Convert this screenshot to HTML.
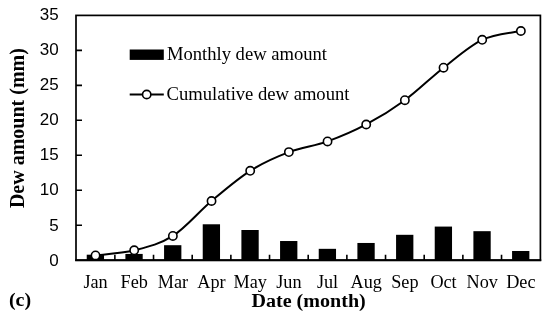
<!DOCTYPE html>
<html><head><meta charset="utf-8"><title>Dew amount</title>
<style>html,body{margin:0;padding:0;background:#fff}svg{display:block}text{fill:#000}.s{font-family:"Liberation Serif",serif}.a{font-family:"Liberation Sans",sans-serif}</style></head>
<body>
<svg width="550" height="319" viewBox="0 0 550 319">
<rect width="550" height="319" fill="#fff"/>
<rect x="86.73" y="254.69" width="17.3" height="5.51" fill="#000"/>
<rect x="125.40" y="253.92" width="17.3" height="6.28" fill="#000"/>
<rect x="164.07" y="245.20" width="17.3" height="15.00" fill="#000"/>
<rect x="202.73" y="224.28" width="17.3" height="35.92" fill="#000"/>
<rect x="241.40" y="230.00" width="17.3" height="30.20" fill="#000"/>
<rect x="280.07" y="241.02" width="17.3" height="19.18" fill="#000"/>
<rect x="318.73" y="248.83" width="17.3" height="11.37" fill="#000"/>
<rect x="357.40" y="242.97" width="17.3" height="17.23" fill="#000"/>
<rect x="396.07" y="234.81" width="17.3" height="25.39" fill="#000"/>
<rect x="434.73" y="226.58" width="17.3" height="33.62" fill="#000"/>
<rect x="473.40" y="231.18" width="17.3" height="29.02" fill="#000"/>
<rect x="512.07" y="250.99" width="17.3" height="9.21" fill="#000"/>
<rect x="76.0" y="15.4" width="464.40" height="244.80" fill="none" stroke="#000" stroke-width="1.7"/>
<path d="M75.15 260.3H541.25" stroke="#000" stroke-width="1.9" fill="none"/>
<path d="M76.0 225.23h6M76.0 190.26h6M76.0 155.29h6M76.0 120.31h6M76.0 85.34h6M76.0 50.37h6M114.87 260.2v-5.5M153.53 260.2v-5.5M192.20 260.2v-5.5M230.87 260.2v-5.5M269.53 260.2v-5.5M308.20 260.2v-5.5M346.87 260.2v-5.5M385.53 260.2v-5.5M424.20 260.2v-5.5M462.87 260.2v-5.5M501.53 260.2v-5.5" stroke="#000" stroke-width="1.6" fill="none"/>
<path d="M95.53 255.39C101.98 254.54 121.31 253.54 134.20 250.29C147.09 247.05 159.98 244.14 172.87 235.93C185.76 227.71 198.64 211.84 211.53 200.99C224.42 190.13 237.31 178.94 250.20 170.79C263.09 162.64 275.98 156.99 288.87 152.10C301.76 147.20 314.64 146.03 327.53 141.43C340.42 136.82 353.31 131.35 366.20 124.48C379.09 117.61 391.98 109.67 404.87 100.21C417.76 90.75 430.64 77.77 443.53 67.71C456.42 57.64 469.31 45.92 482.20 39.81C495.09 33.70 514.42 32.49 520.87 31.02" stroke="#000" stroke-width="2.0" fill="none"/>
<circle cx="95.53" cy="255.39" r="4.15" fill="#fff" stroke="#000" stroke-width="1.6"/>
<circle cx="134.20" cy="250.29" r="4.15" fill="#fff" stroke="#000" stroke-width="1.6"/>
<circle cx="172.87" cy="235.93" r="4.15" fill="#fff" stroke="#000" stroke-width="1.6"/>
<circle cx="211.53" cy="200.99" r="4.15" fill="#fff" stroke="#000" stroke-width="1.6"/>
<circle cx="250.20" cy="170.79" r="4.15" fill="#fff" stroke="#000" stroke-width="1.6"/>
<circle cx="288.87" cy="152.10" r="4.15" fill="#fff" stroke="#000" stroke-width="1.6"/>
<circle cx="327.53" cy="141.43" r="4.15" fill="#fff" stroke="#000" stroke-width="1.6"/>
<circle cx="366.20" cy="124.48" r="4.15" fill="#fff" stroke="#000" stroke-width="1.6"/>
<circle cx="404.87" cy="100.21" r="4.15" fill="#fff" stroke="#000" stroke-width="1.6"/>
<circle cx="443.53" cy="67.71" r="4.15" fill="#fff" stroke="#000" stroke-width="1.6"/>
<circle cx="482.20" cy="39.81" r="4.15" fill="#fff" stroke="#000" stroke-width="1.6"/>
<circle cx="520.87" cy="31.02" r="4.15" fill="#fff" stroke="#000" stroke-width="1.6"/>
<text class="a" x="58.7" y="265.70" font-size="17" text-anchor="end">0</text>
<text class="a" x="58.7" y="230.59" font-size="17" text-anchor="end">5</text>
<text class="a" x="58.7" y="195.48" font-size="17" text-anchor="end">10</text>
<text class="a" x="58.7" y="160.37" font-size="17" text-anchor="end">15</text>
<text class="a" x="58.7" y="125.26" font-size="17" text-anchor="end">20</text>
<text class="a" x="58.7" y="90.15" font-size="17" text-anchor="end">25</text>
<text class="a" x="58.7" y="55.04" font-size="17" text-anchor="end">30</text>
<text class="a" x="58.7" y="19.93" font-size="17" text-anchor="end">35</text>
<text class="s" transform="translate(95.53 287.5) scale(.985 .97)" font-size="18.5" text-anchor="middle">Jan</text>
<text class="s" transform="translate(134.20 287.5) scale(.985 .97)" font-size="18.5" text-anchor="middle">Feb</text>
<text class="s" transform="translate(172.87 287.5) scale(.985 .97)" font-size="18.5" text-anchor="middle">Mar</text>
<text class="s" transform="translate(211.53 287.5) scale(.985 .97)" font-size="18.5" text-anchor="middle">Apr</text>
<text class="s" transform="translate(250.20 287.5) scale(.985 .97)" font-size="18.5" text-anchor="middle">May</text>
<text class="s" transform="translate(288.87 287.5) scale(.985 .97)" font-size="18.5" text-anchor="middle">Jun</text>
<text class="s" transform="translate(327.53 287.5) scale(.985 .97)" font-size="18.5" text-anchor="middle">Jul</text>
<text class="s" transform="translate(366.20 287.5) scale(.985 .97)" font-size="18.5" text-anchor="middle">Aug</text>
<text class="s" transform="translate(404.87 287.5) scale(.985 .97)" font-size="18.5" text-anchor="middle">Sep</text>
<text class="s" transform="translate(443.53 287.5) scale(.985 .97)" font-size="18.5" text-anchor="middle">Oct</text>
<text class="s" transform="translate(482.20 287.5) scale(.985 .97)" font-size="18.5" text-anchor="middle">Nov</text>
<text class="s" transform="translate(520.87 287.5) scale(.985 .97)" font-size="18.5" text-anchor="middle">Dec</text>
<text class="s" transform="translate(308.6 307.2) scale(1.004 .95)" font-size="20" font-weight="bold" text-anchor="middle">Date (month)</text>
<text class="s" transform="translate(8.9 306.45) scale(1 .94)" font-size="20" font-weight="bold">(c)</text>
<text class="s" transform="translate(23.8 128.1) rotate(-90)" font-size="20" font-weight="bold" text-anchor="middle">Dew amount (mm)</text>
<rect x="129.7" y="49.5" width="34.1" height="10.4" fill="#000"/>
<text class="s" transform="translate(166.9 60.0)" font-size="18.6">Monthly dew amount</text>
<path d="M129.7 94.5H163.8" stroke="#000" stroke-width="2.1" fill="none"/>
<circle cx="146.7" cy="94.5" r="4.15" fill="#fff" stroke="#000" stroke-width="1.6"/>
<text class="s" transform="translate(166.6 99.8)" font-size="18.6">Cumulative dew amount</text>
</svg>
</body></html>
